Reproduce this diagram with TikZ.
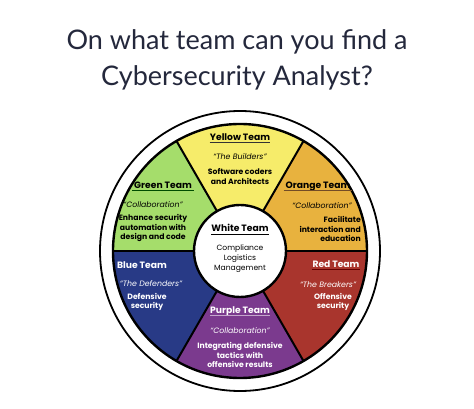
\documentclass[tikz,border=0pt]{standalone}
\usepackage{fontspec}
\setmainfont{Poppins}
\newfontfamily\titlefont{Lato}
\definecolor{tyellow}{RGB}{246,236,106}
\definecolor{tgreen}{RGB}{165,221,107}
\definecolor{torange}{RGB}{232,178,62}
\definecolor{tred}{RGB}{169,53,45}
\definecolor{tblue}{RGB}{40,58,134}
\definecolor{tpurple}{RGB}{123,58,142}
\definecolor{ttitle}{RGB}{36,40,60}
\tikzset{
  ttl/.style={inner sep=0pt, font=\fontsize{9.2}{11}\selectfont\bfseries},
  quot/.style={inner sep=0pt, font=\fontsize{7.8}{9}\selectfont\itshape},
  body/.style={inner sep=0pt, align=center, font=\fontsize{7.7}{9.6}\selectfont\bfseries},
  uline/.style={line width=0.8pt},
  sep/.style={line width=2pt, draw=black},
}
\begin{document}
\begin{tikzpicture}[x=1pt,y=1pt]
\useasboundingbox[fill=white] (-240,-158) rectangle (234,251);
% title
\node[font=\titlefont\fontsize{27}{32}\selectfont, text=ttitle, inner sep=0pt] (t1) at (-3,209) {On what team can you find a};
\node[font=\titlefont\fontsize{27}{32}\selectfont, text=ttitle, inner sep=0pt] (t2) at (-3,173) {Cybersecurity Analyst?};
% outer ring
\draw[line width=1.8pt] (0,0) circle[radius=140];
% segments
\fill[torange] (0,0) -- (0:127) arc[start angle=0, end angle=60, radius=127] -- cycle;
\fill[tyellow] (0,0) -- (60:127) arc[start angle=60, end angle=120, radius=127] -- cycle;
\fill[tgreen] (0,0) -- (120:127) arc[start angle=120, end angle=180, radius=127] -- cycle;
\fill[tblue] (0,0) -- (180:127) arc[start angle=180, end angle=240, radius=127] -- cycle;
\fill[tpurple] (0,0) -- (240:127) arc[start angle=240, end angle=300, radius=127] -- cycle;
\fill[tred] (0,0) -- (300:127) arc[start angle=300, end angle=360, radius=127] -- cycle;
\foreach \a in {0,60,...,300} \draw[sep] (0,0) -- (\a:127);
\draw[line width=2.4pt] (0,0) circle[radius=127];
\node[circle, fill=white, draw=black, line width=2.4pt, minimum size=92pt, inner sep=0pt] (white) at (0,0) {};
% white team
\node[ttl] (wt) at (0,23) {White Team};
\draw[uline] ([yshift=-2.5pt]wt.base west) -- ([yshift=-2.5pt]wt.base east);
\node[body, font=\fontsize{7.6}{10}\selectfont] (wb) at (0,-8) {Compliance\\Logistics\\Management};
% yellow
\node[ttl] (yt) at (0,114) {Yellow Team};
\draw[uline, draw=black!80] ([yshift=-2.5pt]yt.base west) -- ([yshift=-2.5pt]yt.base east);
\node[quot] (yq) at (0,94) {“The Builders”};
\node[body] (yb) at (0,74.5) {Software coders\\and Architects};
% green
\node[ttl] (gt) at (-77,66) {Green Team};
\draw[uline, draw=green!30!black] ([xshift=-2pt,yshift=-2.5pt]gt.base west) -- ([xshift=2pt,yshift=-2.5pt]gt.base east);
\node[quot] (gq) at (-87,46) {“Collaboration”};
\node[body] (gb) at (-87,23) {Enhance security\\automation with\\design and code};
% orange
\node[ttl] (ot) at (78,65) {Orange Team};
\draw[uline, draw=brown!60!black] ([xshift=-2pt,yshift=-2.5pt]ot.base west) -- ([xshift=2pt,yshift=-2.5pt]ot.base east);
\node[quot] (oq) at (82,45) {“Collaboration”};
\node[body, align=right, anchor=east] (ob) at (121,22) {Facilitate\\interaction and\\education};
% blue
\node[ttl, text=white] (bt) at (-98,-14) {Blue Team};
\node[quot, text=white] (bq) at (-89,-33) {“The Defenders”};
\node[body, text=white] (bb) at (-93,-51) {Defensive\\security};
% red
\node[ttl, text=white] (rt) at (96,-13) {Red Team};
\draw[uline, draw=red!40!black] ([yshift=-2.5pt]rt.base west) -- ([yshift=-2.5pt]rt.base east);
\node[quot, text=white] (rq) at (88,-34) {“The Breakers”};
\node[body, text=white] (rb) at (93,-51) {Offensive\\security};
% purple
\node[ttl, text=white] (pt) at (0,-60) {Purple Team};
\draw[uline, draw=tpurple!45!white, line width=0.6pt] ([yshift=-2.5pt]pt.base west) -- ([yshift=-2.5pt]pt.base east);
\node[quot, text=white] (pq) at (0,-80) {“Collaboration”};
\node[body, text=white] (pb) at (0,-104) {Integrating defensive\\tactics with\\offensive results};
\end{tikzpicture}
\end{document}
